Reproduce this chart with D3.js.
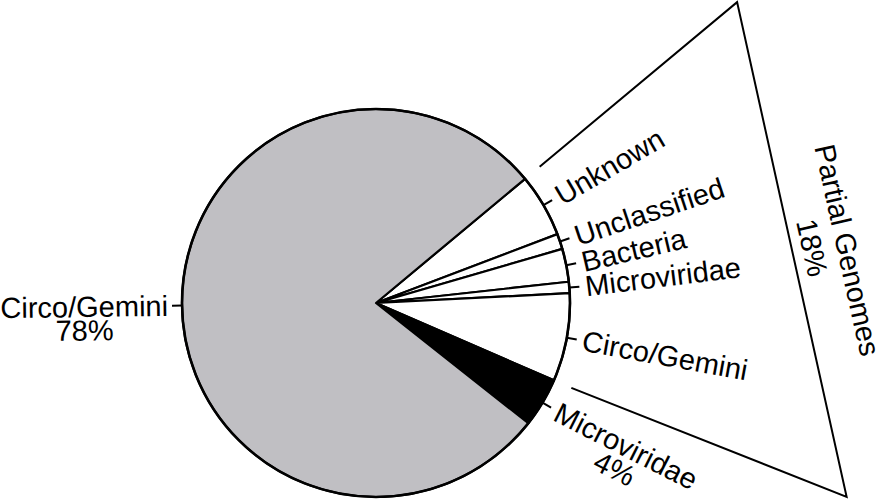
<!DOCTYPE html>
<html>
<head>
<meta charset="utf-8">
<script src="https://cdn.jsdelivr.net/npm/d3@7"></script>
<style>
  body { margin: 0; background: #fff; }
  text { font-family: "Liberation Sans", Arial, Helvetica, sans-serif; font-size: 29px; fill: #000; }
</style>
</head>
<body>
<div id="pie"></div>
<script>
// slices, clockwise starting at the top edge of the partial genome wedge
const segments = ["Unknown", "Unclassified", "Bacteria", "Microviridae", "Circo/Gemini", "Microviridae", "Circo/Gemini"];
const shares = [5.28, 1.28, 2.75, 0.94, 7.33, 4.11, 78.31];
const kinds = ["partial", "partial", "partial", "partial", "partial", "complete", "complete"];
const shareLabels = ["", "", "", "", "", "4%", "78%"];
const groupLabel = ["Partial Genomes", "18%"];

const width = 876,
    height = 500,
    cx = 376,
    cy = 303,
    radius = 194;

const fills = {partial: "#ffffff", complete: "#c0bfc3"};
// small hand tweaks to label angles (degrees, + = more counter-clockwise)
const tilt = [0, 0, 2, 2.5, 0, 4, 0];

const svg = d3.select("#pie")
    .append("svg")
    .attr("width", width)
    .attr("height", height);

const g = svg.append("g")
    .attr("transform", `translate(${cx}, ${cy})`);

const rows = segments.map((name, i) => ({name: name, value: shares[i], kind: kinds[i], extra: shareLabels[i]}));

const startDeg = 50.2;
const pie = d3.pie()
    .sort(null)
    .value(d => d.value)
    .startAngle(startDeg * Math.PI / 180)
    .endAngle((startDeg + 360) * Math.PI / 180);

const arcs = pie(rows);
const arc = d3.arc().innerRadius(0).outerRadius(radius);

// point on a ray, d3 angle convention (clockwise from 12 o'clock)
const polar = (a, r) => [r * Math.sin(a), -r * Math.cos(a)];

g.selectAll("path.slice")
    .data(arcs)
    .enter()
    .append("path")
    .attr("class", "slice")
    .attr("d", arc)
    .style("fill", (d, i) => i === 5 ? "#000" : fills[d.data.kind])
    .style("stroke", "#000")
    .style("stroke-width", 2.2)
    .style("stroke-linejoin", "round");

// outline on top so the rim is even
g.append("circle")
    .attr("r", radius)
    .style("fill", "none")
    .style("stroke", "#000")
    .style("stroke-width", 2.6);

// ticks + labels
arcs.forEach((d, i) => {
    const mid = (d.startAngle + d.endAngle) / 2;
    const deg = mid * 180 / Math.PI;
    const left = (deg % 360) > 180;
    const p0 = polar(mid, radius), p1 = polar(mid, radius + 10);
    g.append("line")
        .attr("x1", p0[0]).attr("y1", p0[1])
        .attr("x2", p1[0]).attr("y2", p1[1])
        .style("stroke", "#000")
        .style("stroke-width", 2);

    const pt = polar(mid, left ? radius + 14 : radius + 16);
    const rot = (left ? deg - 270 : deg - 90) - tilt[i];
    const lab = g.append("g")
        .attr("transform", `translate(${pt[0]}, ${pt[1]}) rotate(${rot})`);
    const first = lab.append("text")
        .attr("dy", "0.35em")
        .attr("text-anchor", left ? "end" : "start")
        .text(d.data.name);
    if (d.data.extra) {
        const w = first.node().getComputedTextLength();
        lab.append("text")
            .attr("x", left ? -w / 2 : w / 2)
            .attr("dy", left ? "1.16em" : "1.22em")
            .attr("text-anchor", "middle")
            .text(d.data.extra);
    }
});

// bracket triangle around the partial genomes wedge
const part = arcs.filter(d => d.data.kind === "partial");
const a0 = part[0].startAngle,
    a1 = part[part.length - 1].endAngle;
const nearTop = polar(a0, 213),
    farTop = polar(a0, 470),
    nearBot = polar(a1, 213),
    farBot = polar(a1 - 1.1 * Math.PI / 180, 509);

g.append("path")
    .attr("d", d3.line()([nearTop, farTop, farBot, nearBot]))
    .style("fill", "none")
    .style("stroke", "#000")
    .style("stroke-width", 2)
    .style("stroke-linejoin", "miter");

// group label runs along the far edge
const ex = farBot[0] - farTop[0], ey = farBot[1] - farTop[1];
const len = Math.hypot(ex, ey);
const ux = ex / len, uy = ey / len;
const t = 266, off = 44;
const gp = [farTop[0] + ux * t + uy * off, farTop[1] + uy * t - ux * off];
const gl = g.append("g")
    .attr("transform", `translate(${gp[0]}, ${gp[1]}) rotate(${Math.atan2(ey, ex) * 180 / Math.PI})`);
gl.append("text")
    .attr("text-anchor", "middle")
    .text(groupLabel[0]);
gl.append("text")
    .attr("x", -10)
    .attr("y", 34)
    .attr("text-anchor", "middle")
    .text(groupLabel[1]);
</script>
</body>
</html>
